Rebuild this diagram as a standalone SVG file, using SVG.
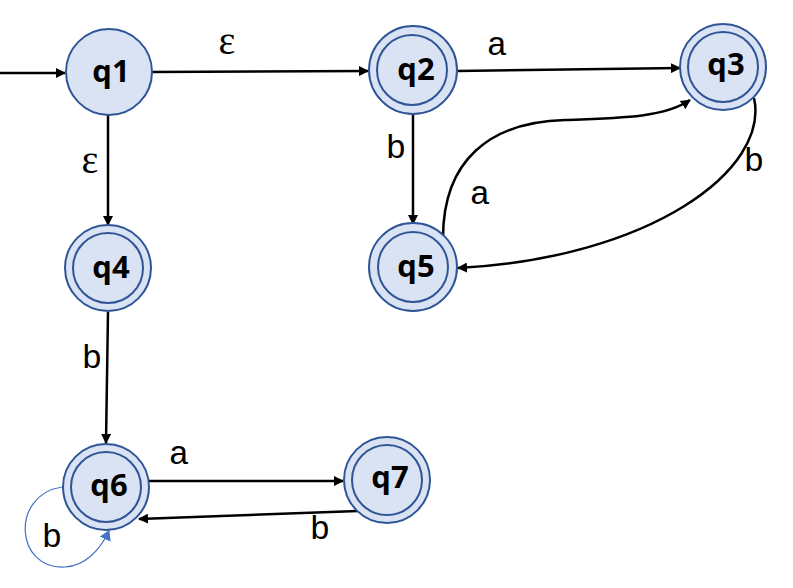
<svg xmlns="http://www.w3.org/2000/svg" width="793" height="588" viewBox="0 0 793 588">
<style>
.st{fill:#DAE3F3;stroke:#2F5597;stroke-width:2}
.in{fill:none;stroke:#2F5597;stroke-width:2}
.nl{font-family:"Open Sans","Liberation Sans",sans-serif;font-weight:bold;font-size:31px;fill:#000;text-anchor:middle}
.e{fill:none;stroke:#000;stroke-width:2.5}
.el{font-family:"Liberation Mono",monospace;font-size:34px;fill:#000;text-anchor:middle}
.eps{font-family:"Liberation Serif",serif;font-size:40px;fill:#000;text-anchor:middle}
</style>
<defs>
<marker id="ah" markerWidth="10" markerHeight="10" refX="9" refY="5" orient="auto" markerUnits="userSpaceOnUse"><path d="M0,0 L10,5 L0,10 z" fill="#000"/></marker>
<marker id="ahb" markerWidth="10" markerHeight="12" refX="9" refY="6" orient="auto" markerUnits="userSpaceOnUse"><path d="M0,0 L10,6 L0,12 z" fill="#4472C4"/></marker>
</defs>
<rect width="793" height="588" fill="#fff"/>
<g id="connectors">
<path class="e" d="M0,73 L65,73" marker-end="url(#ah)"/>
<path class="e" d="M151,72 L368,71" marker-end="url(#ah)"/>
<path class="e" d="M108,115 L108,225" marker-end="url(#ah)"/>
<path class="e" d="M457,71 L680,68" marker-end="url(#ah)"/>
<path class="e" d="M413,115 L413,224" marker-end="url(#ah)"/>
<path class="e" d="M443,238 C443,160 490,122 565,120 C625,118 665,117 690,100" marker-end="url(#ah)"/>
<path class="e" d="M754,98 C770,170 650,258 458,268" marker-end="url(#ah)"/>
<path class="e" d="M108,312 L106,443" marker-end="url(#ah)"/>
<path class="e" d="M146,481 L343,481" marker-end="url(#ah)"/>
<path class="e" d="M358,511 L139,519" marker-end="url(#ah)"/>
<path d="M62,487 C10,495 15,570 65,567 C85,566 100,550 109,531" fill="none" stroke="#4472C4" stroke-width="1.2" marker-end="url(#ahb)"/>
<text class="eps" x="227" y="54">ε</text>
<text class="eps" x="90" y="173">ε</text>
<text class="el" x="497" y="55">a</text>
<text class="el" x="396" y="158">b</text>
<text class="el" x="480" y="204">a</text>
<text class="el" x="754" y="171">b</text>
<text class="el" x="92" y="368">b</text>
<text class="el" x="179" y="464">a</text>
<text class="el" x="320" y="539">b</text>
<text class="el" x="52" y="547">b</text>
</g>
<g id="q1"><circle class="st" cx="109" cy="72" r="43"/><text class="nl" x="111" y="82">q1</text></g>
<g id="q2"><circle class="st" cx="413" cy="70" r="44"/><circle class="in" cx="412" cy="70" r="35"/><text class="nl" x="416" y="80">q2</text></g>
<g id="q3"><circle class="st" cx="723" cy="67" r="43"/><circle class="in" cx="723" cy="67" r="35"/><text class="nl" x="726" y="75">q3</text></g>
<g id="q4"><circle class="st" cx="108" cy="268" r="43"/><circle class="in" cx="108" cy="268" r="35"/><text class="nl" x="111" y="278">q4</text></g>
<g id="q5"><circle class="st" cx="413" cy="267" r="44"/><circle class="in" cx="413" cy="267" r="35"/><text class="nl" x="416" y="277">q5</text></g>
<g id="q6"><circle class="st" cx="106" cy="487" r="43"/><circle class="in" cx="106" cy="487" r="35"/><text class="nl" x="109" y="496">q6</text></g>
<g id="q7"><circle class="st" cx="387" cy="480" r="43"/><circle class="in" cx="387" cy="480" r="35"/><text class="nl" x="390" y="488">q7</text></g>
</svg>
